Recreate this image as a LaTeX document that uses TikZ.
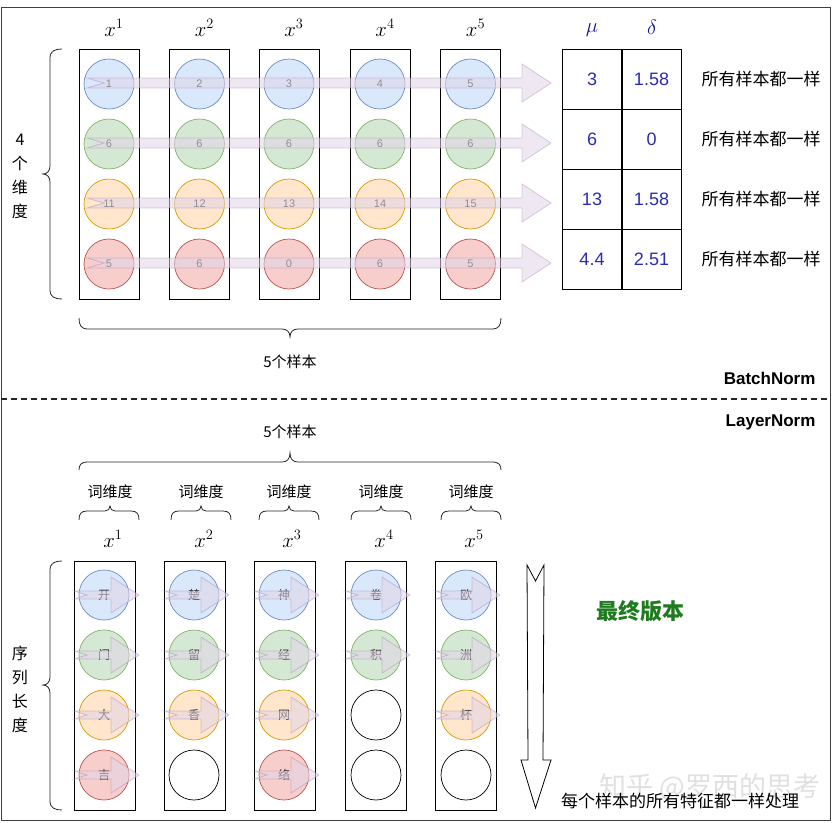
\documentclass[tikz,border=0pt]{standalone}
\usepackage{fontspec}
\usepackage{amsmath}
\setmainfont{Liberation Sans}
\newfontfamily\cjk{Noto Sans CJK SC}
\DeclareMathSizes{21}{21}{15}{11}
\definecolor{bluef}{HTML}{DAE8FC}\definecolor{blued}{HTML}{6C8EBF}
\definecolor{greenf}{HTML}{D5E8D4}\definecolor{greend}{HTML}{82B366}
\definecolor{orangef}{HTML}{FFE6CC}\definecolor{oranged}{HTML}{D79B00}
\definecolor{redf}{HTML}{F8CECC}\definecolor{redd}{HTML}{B85450}
\definecolor{arrf}{HTML}{E1D5E7}\definecolor{arrd}{HTML}{9673A6}
\definecolor{numblue}{HTML}{2B2BB0}\definecolor{mublue}{HTML}{1A1A8C}
\definecolor{fingreen}{HTML}{1E7B1E}
\newcommand{\fs}[1]{\fontsize{#1}{#1}\selectfont}
\begin{document}
\begin{tikzpicture}[x=1pt,y=-1pt,
  frame/.style={draw=black!75,line width=1pt},
  colbox/.style={draw=black,line width=0.9pt,minimum width=60pt,minimum height=250pt,inner sep=0pt},
  circ/.style={circle,minimum size=50pt,inner sep=0pt,line width=0.7pt,font=\fs{11}\color{black!80}},
  cb/.style={circ,fill=bluef,draw=blued},
  cg/.style={circ,fill=greenf,draw=greend},
  co/.style={circ,fill=orangef,draw=oranged},
  cr/.style={circ,fill=redf,draw=redd},
  ce/.style={circ,fill=white,draw=black},
  ccjk/.style={font=\cjk\fs{12}\color{black!80}},
  blockarr/.style={fill=arrf,fill opacity=0.55,draw=arrd,draw opacity=0.35,line width=0.8pt},
  cell/.style={draw=black,line width=0.9pt,minimum size=60pt,inner sep=0pt,font=\fs{18}\color{numblue}},
  lbl/.style={font=\fs{21},inner sep=0pt},
  cjklbl/.style={font=\cjk\fs{16}},
  brace/.style={draw=black!85,line width=0.8pt},
]
\useasboundingbox (0,0) rectangle (832,822);
\draw[frame] (1,7) rectangle (830,820);

% ================= TOP: BatchNorm =================
\foreach \i/\xc in {1/109,2/199.5,3/289,4/380,5/470.5}{
  \node[colbox] (tb\i) at (\xc,174) {};
  \node[lbl] (tx\i) at (\xc+5,28) {$x^{\i}$};
}
\foreach \i/\xc/\v in {1/109/1,2/199.5/2,3/289/3,4/380/4,5/470.5/5}
  \node[cb] (ta\i) at (\xc,84) {\v};
\foreach \i/\xc/\v in {1/109/6,2/199.5/6,3/289/6,4/380/6,5/470.5/6}
  \node[cg] (tg\i) at (\xc,144) {\v};
\foreach \i/\xc/\v in {1/109/11,2/199.5/12,3/289/13,4/380/14,5/470.5/15}
  \node[co] (to\i) at (\xc,204) {\v};
\foreach \i/\xc/\v in {1/109/5,2/199.5/6,3/289/0,4/380/6,5/470.5/5}
  \node[cr] (tr\i) at (\xc,264) {\v};

\foreach \y in {83,143,203,263}
  \path[blockarr] (87,{\y-5}) -- (522,{\y-5}) -- (522,{\y-19}) -- (551,\y)
     -- (522,{\y+19}) -- (522,{\y+5}) -- (87,{\y+5}) -- (104,\y) -- cycle;

% table
\node[lbl,text=mublue] (mu) at (592,30) {$\mu$};
\node[lbl,text=mublue] (de) at (652,27) {$\delta$};
\foreach \r/\y/\m/\d in {1/79/3/1.58,2/139/6/0,3/199/13/1.58,4/259/4.4/2.51}{
  \node[cell] (m\r) at (592,\y) {\m};
  \node[cell] (d\r) at (651.5,\y) {\d};
  \node[cjklbl,font=\cjk\fs{17}] (s\r) at (761,\y) {所有样本都一样};
}

% left brace (4 dims)
\draw[brace] (62,49) .. controls (55,49) and (50,51) .. (50,58) -- (50,166)
  .. controls (50,171) and (47,174) .. (43,174) .. controls (47,174) and (50,177) .. (50,182)
  -- (50,290) .. controls (50,297) and (55,299) .. (62,299);
\node[cjklbl,align=center] (dim4) at (20,176) {4\\[8pt]个\\[8pt]维\\[8pt]度};

% bottom brace (5 samples)
\draw[brace] (79,318) .. controls (79,325) and (81,329) .. (88,329) -- (282,329)
  .. controls (287,329) and (290,332) .. (290,337) .. controls (290,332) and (293,329) .. (298,329)
  -- (492,329) .. controls (499,329) and (501,325) .. (501,318);
\node[cjklbl,font=\cjk\fs{15}] (s5a) at (290,362) {5个样本};

\node[font=\bfseries\fs{17},anchor=east] (bn) at (819,378) {BatchNorm};
\draw[black!85,line width=1.6pt,dash pattern=on 6pt off 4pt] (1,399) -- (830,399);
\node[font=\bfseries\fs{17},anchor=east] (ln) at (819,422) {LayerNorm};

% ================= BOTTOM: LayerNorm =================
\node[cjklbl,font=\cjk\fs{15}] (s5b) at (290,432) {5个样本};
\draw[brace] (79,470) .. controls (79,465) and (81,462) .. (88,462) -- (282,462)
  .. controls (287,462) and (290,459) .. (290,453) .. controls (290,459) and (293,462) .. (298,462)
  -- (492,462) .. controls (499,462) and (501,465) .. (501,470);
\foreach \i/\xa/\xb/\xm in {1/79/139/110,2/171/231/201,3/259/319/289,4/351/411/381,5/441/501/471}{
  \node[cjklbl,font=\cjk\fs{15}] (cw\i) at (\xm,492) {词维度};
  \draw[brace] (\xa,520) .. controls (\xa,514) and ({\xa+2},511) .. ({\xa+8},511) -- ({\xm-5},511)
    .. controls ({\xm-2},511) and (\xm,509) .. (\xm,506) .. controls (\xm,509) and ({\xm+2},511) .. ({\xm+5},511)
    -- ({\xb-8},511) .. controls ({\xb-2},511) and (\xb,514) .. (\xb,520);
  \node[lbl] (bx\i) at ({\xm+3},539) {$x^{\i}$};
}
\foreach \i/\xc in {1/104.5,2/194.5,3/284.5,4/375.5,5/465.5}
  \node[colbox,minimum height=249pt,minimum width=61pt] (bb\i) at (\xc,685.5) {};

\node[cb] (b11) at (104,595) {}; \node[cg] (b12) at (104,655) {};
\node[co] (b13) at (104,715) {}; \node[cr] (b14) at (104,775) {};
\node[cb] (b21) at (194,595) {}; \node[cg] (b22) at (194,655) {};
\node[co] (b23) at (194,715) {}; \node[ce] (b24) at (194,775) {};
\node[cb] (b31) at (284,595) {}; \node[cg] (b32) at (284,655) {};
\node[co] (b33) at (284,715) {}; \node[cr] (b34) at (284,775) {};
\node[cb] (b41) at (376,595) {}; \node[cg] (b42) at (376,655) {};
\node[ce] (b43) at (376,715) {}; \node[ce] (b44) at (376,775) {};
\node[cb] (b51) at (466,595) {}; \node[cg] (b52) at (466,655) {};
\node[co] (b53) at (466,715) {}; \node[ce] (b54) at (466,775) {};

\foreach \n/\ch in {b11/开,b12/门,b13/大,b14/吉,b21/楚,b22/留,b23/香,b31/神,b32/经,b33/网,b34/络,b41/卷,b42/积,b51/欧,b52/洲,b53/杯}
  \node[ccjk] at (\n) {\ch};

\foreach \xl/\ys in {74/{595,655,715,775},164/{595,655,715},254/{595,655,715,775},345/{595,655},435/{595,655,715}}{
  \foreach \y in \ys
    \path[blockarr] (\xl,{\y-4}) -- ({\xl+37},{\y-4}) -- ({\xl+37},{\y-18}) -- ({\xl+65},\y)
      -- ({\xl+37},{\y+18}) -- ({\xl+37},{\y+4}) -- (\xl,{\y+4}) -- ({\xl+13},\y) -- cycle;
}

% left brace (sequence length)
\draw[brace] (62,561) .. controls (55,561) and (50,563) .. (50,570) -- (50,677)
  .. controls (50,682) and (47,685) .. (43,685) .. controls (47,685) and (50,688) .. (50,693)
  -- (50,801) .. controls (50,808) and (55,810) .. (62,810);
\node[cjklbl,align=center] (seq) at (20,689) {序\\[8pt]列\\[8pt]长\\[8pt]度};

% down arrow
\draw[line width=0.8pt,fill=white] (527,565) -- (535.5,581) -- (544,565) -- (543,760) -- (551,760)
  -- (535.5,808) -- (521,760) -- (528,760) -- cycle;

\node[font=\cjk\bfseries\fs{22}\color{fingreen}] (final) at (640,611) {最终版本};
\node[font=\cjk\fs{27}\color{black!12}] (wm) at (710,787) {知乎 @罗西的思考};
\node[font=\cjk\fs{17}] (note) at (680,801) {每个样本的所有特征都一样处理};
\end{tikzpicture}
\end{document}
